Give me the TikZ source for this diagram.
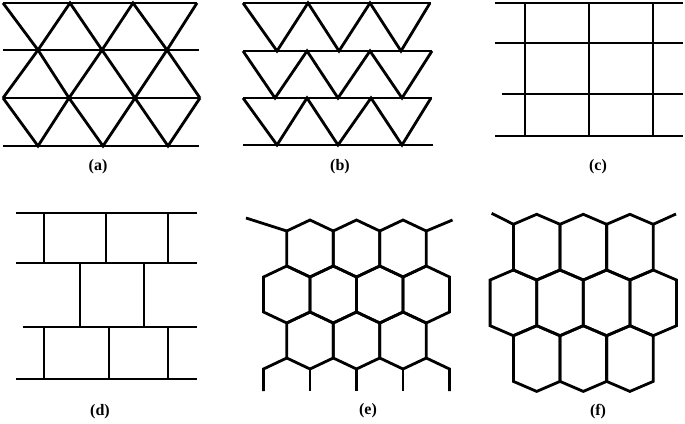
\documentclass[tikz,border=0pt]{standalone}
\usepackage{fontspec}
\setmainfont{Liberation Serif}
\newcommand{\hexcell}[5]{\draw[lat] (#1,#2) -- ++(#3,#4) -- ++(0,#5) -- ++(-#3,#4) -- ++(-#3,-#4) -- ++(0,-#5) -- cycle;}
\begin{document}
\begin{tikzpicture}[x=1pt,y=-1pt,
  lat/.style={line width=2.8pt,black,line join=miter},
  caption/.style={font=\fontsize{16}{18}\selectfont\bfseries,inner sep=0pt}]
\useasboundingbox (0,0) rectangle (685,423);
% (a)
\draw[lat] (3,3)--(197,3) (3,50)--(199,50) (3,98)--(200,98) (3,146)--(199,146);
\draw[lat] (3,3)--(38,50)--(70,3)--(102,50)--(133,3)--(167,50)--(197,3);
\draw[lat] (3,98)--(38,50)--(69,98)--(102,50)--(135,98)--(167,50)--(200,98);
\draw[lat] (3,98)--(38,146)--(69,98)--(103,146)--(135,98)--(168,146)--(200,98);
\node[caption] (la) at (98,167) {(a)};
% (b)
\draw[lat] (243,3)--(431,3) (243,51)--(432,51) (243,98)--(432,98) (243,145)--(433,145);
\draw[lat] (243,3)--(277,51)--(308,3)--(339,51)--(370,3)--(401,51)--(430,3);
\draw[lat] (243,51)--(275,98)--(307,51)--(338,98)--(370,51)--(402,98)--(432,51);
\draw[lat] (243,98)--(277,145)--(307,98)--(338,145)--(371,98)--(402,145)--(431,98);
\node[caption] (lb) at (340,167) {(b)};
% (c)
\draw[lat] (495,3)--(683,3) (495,43)--(683,43) (502,94)--(683,94) (495,136)--(683,136);
\foreach \x in {525,589,653} \draw[lat] (\x,3)--(\x,136);
\node[caption] (lc) at (598,167) {(c)};
% (d)
\draw[lat] (16,213)--(197,213) (16,263)--(197,263) (23,327)--(197,327) (16,379)--(197,379);
\foreach \x in {44,106,168} \draw[lat] (\x,213)--(\x,263);
\foreach \x in {80,144} \draw[lat] (\x,263)--(\x,327);
\foreach \x in {44,109,168} \draw[lat] (\x,327)--(\x,379);
\node[caption] (ld) at (100,412) {(d)};
% (e)
\foreach \cx in {310,356.5,403} {\hexcell{\cx}{220}{23.25}{11}{35}\hexcell{\cx}{312}{23.25}{11}{35}}
\foreach \cx in {286.75,333.25,379.75,426.25} {\hexcell{\cx}{266}{23.25}{11}{35}}
\draw[lat] (246,218)--(286.75,231);
\draw[lat] (426.25,231)--(452.5,220);
\draw[lat] (286.75,358)--(263.5,369)--(263.5,391);
\draw[lat] (426.25,358)--(449.5,369)--(449.5,391);
\foreach \x in {310,356.5,403} \draw[lat] (\x,369)--(\x,391);
\node[caption] (le) at (368,411) {(e)};
% (f)
\foreach \cx in {536.7,583.3,629.9} {\hexcell{\cx}{214.3}{23.3}{10}{45.7}\hexcell{\cx}{325.7}{23.3}{10}{45.7}}
\foreach \cx in {513.4,560,606.6,653.2} {\hexcell{\cx}{270}{23.3}{10}{45.7}}
\draw[lat] (491.7,213.3)--(513.4,224.3);
\draw[lat] (653.2,224.3)--(676,214);
\node[caption] (lf) at (598,412) {(f)};
\end{tikzpicture}
\end{document}
